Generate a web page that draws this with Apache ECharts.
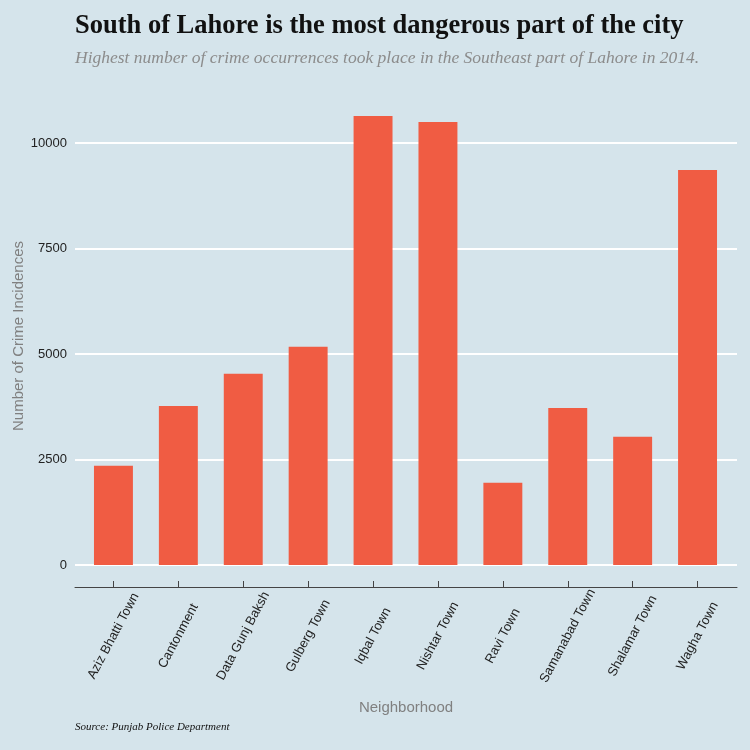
<!DOCTYPE html>
<html>
<head>
<meta charset="utf-8">
<script src="https://cdn.jsdelivr.net/npm/echarts@6/dist/echarts.min.js"></script>
<style>
html, body { margin: 0; padding: 0; background: #d5e4eb; }
#chart { width: 750px; height: 750px; }
</style>
</head>
<body>
<div id="chart"></div>
<script>
// neighborhoods & crime counts (2014)
var towns = ['Aziz Bhatti Town', 'Cantonment', 'Data Gunj Baksh', 'Gulberg Town', 'Iqbal Town',
             'Nishtar Town', 'Ravi Town', 'Samanabad Town', 'Shalamar Town', 'Wagha Town'];
var crimes = [2350, 3770, 4530, 5170, 10640, 10500, 1950, 3720, 3040, 9360];
var yTicks = [0, 2500, 5000, 7500, 10000];

var bg = '#d5e4eb';
var barColor = '#f05c43';

var chart = echarts.init(document.getElementById('chart'));

var option = {
    backgroundColor: bg,
    animation: false,
    title: [{
        text: 'South of Lahore is the most dangerous part of the city',
        left: 75, top: 13, padding: 0,
        textStyle: { fontFamily: 'Liberation Serif', fontWeight: 'bold', fontSize: 26.5, color: '#111' }
    }, {
        text: 'Highest number of crime occurrences took place in the Southeast part of Lahore in 2014.',
        left: 75, top: 49, padding: 0,
        textStyle: { fontFamily: 'Liberation Serif', fontStyle: 'italic', fontWeight: 'normal', fontSize: 17.5, color: '#8c8c8c' }
    }],
    grid: [
        // gridlines + y labels, full panel width
        { left: 75, right: 13, top: 143, bottom: 185 },
        // bars, inset like ggplot's discrete expansion
        { left: 81, right: 20, top: 143, bottom: 185 }
    ],
    xAxis: [{
        gridIndex: 0, type: 'category', data: towns,
        offset: 22,
        axisLine: { show: true, onZero: false, lineStyle: { color: '#444', width: 1 } },
        axisTick: { show: false }, axisLabel: { show: false }, splitLine: { show: false }
    }, {
        gridIndex: 1, type: 'category', data: towns,
        offset: 22,
        axisLine: { show: false, onZero: false },
        axisTick: { show: true, inside: true, alignWithLabel: true, length: 6, lineStyle: { color: '#444' } },
        axisLabel: { interval: 0, rotate: 62, margin: 49, align: 'center', verticalAlign: 'middle',
                     fontFamily: 'Liberation Sans', fontSize: 13, color: '#222' }
    }],
    yAxis: [{
        gridIndex: 0, type: 'value', min: yTicks[0], max: yTicks[yTicks.length - 1], interval: 2500,
        axisLine: { show: false }, axisTick: { show: false },
        axisLabel: { margin: 8, fontFamily: 'Liberation Sans', fontSize: 13, color: '#222',
                     formatter: function (v) { return String(v); } },
        splitLine: { show: true, lineStyle: { color: '#ffffff', width: 2 } }
    }, {
        gridIndex: 1, type: 'value', min: yTicks[0], max: yTicks[yTicks.length - 1], interval: 2500,
        show: false, splitLine: { show: false }
    }],
    series: [{
        type: 'bar',
        xAxisIndex: 1, yAxisIndex: 1,
        data: crimes,
        barWidth: '60%',
        clip: false,
        itemStyle: { color: barColor }
    }],
    graphic: [{
        type: 'text', x: 19, y: 336, rotation: Math.PI / 2,
        style: { text: 'Number of Crime Incidences', fontFamily: 'Liberation Sans', fontSize: 15,
                 fill: '#808080', textAlign: 'center', textVerticalAlign: 'middle' }
    }, {
        type: 'text', x: 406, y: 708,
        style: { text: 'Neighborhood', fontFamily: 'Liberation Sans', fontSize: 15,
                 fill: '#808080', textAlign: 'center', textVerticalAlign: 'middle' }
    }, {
        type: 'text', x: 75, y: 727,
        style: { text: 'Source: Punjab Police Department', fontFamily: 'Liberation Serif', fontStyle: 'italic',
                 fontSize: 11, fill: '#111', textAlign: 'left', textVerticalAlign: 'middle' }
    }]
};

chart.setOption(option);
</script>
</body>
</html>
